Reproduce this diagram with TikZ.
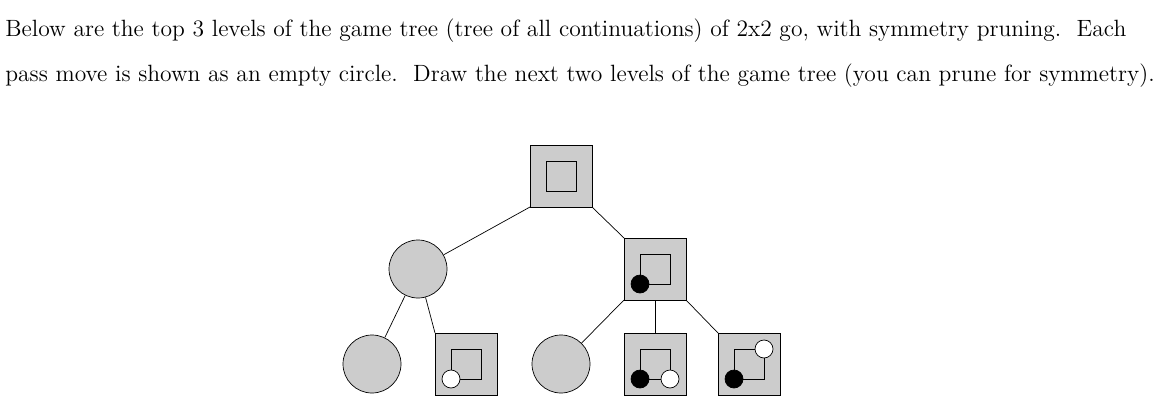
\documentclass[tikz,border=0pt]{standalone}
\begin{document}
\begin{tikzpicture}[x=0.02cm,y=-0.02cm,
  board/.style={draw,fill=black!20,minimum size=62*0.02cm,inner sep=0,outer sep=0},
  pass/.style={draw,fill=black!20,circle,minimum size=58*0.02cm,inner sep=0},
  bst/.style={draw,fill=black,circle,minimum size=18*0.02cm,inner sep=0},
  wst/.style={draw,fill=white,circle,minimum size=18*0.02cm,inner sep=0},
  txt/.style={anchor=base west,inner sep=0,font=\fontsize{13.4}{15}\selectfont}]
\useasboundingbox (0,0) rectangle (1159,416);
\node[txt] (t1) at (5,36) {Below are the top 3 levels of the game tree (tree of all continuations) of 2x2 go, with symmetry pruning.\ \ Each};
\node[txt] (t2) at (5,81) {pass move is shown as an empty circle.\ \ Draw the next two levels of the game tree (you can prune for symmetry).};
\node[board] (r) at (561,176) {};
\node[pass] (p) at (418,269) {};
\node[board] (s) at (655,269) {};
\node[pass] (pp) at (372,364) {};
\node[board] (ps) at (466,364) {};
\node[pass] (sp) at (561,364) {};
\node[board] (sa) at (655,364) {};
\node[board] (sb) at (749,364) {};
\foreach \n in {r,s,ps,sa,sb}{\draw[fill=black!20] ([shift={(-15,15)}]\n.center) rectangle ([shift={(15,-15)}]\n.center);}
\node[bst] (s1) at ([shift={(-15,15)}]s.center) {};
\node[wst] (ps1) at ([shift={(-15,15)}]ps.center) {};
\node[bst] (sa1) at ([shift={(-15,15)}]sa.center) {};
\node[wst] (sa2) at ([shift={(15,15)}]sa.center) {};
\node[bst] (sb1) at ([shift={(-15,15)}]sb.center) {};
\node[wst] (sb2) at ([shift={(15,-15)}]sb.center) {};
\draw (r.south west) -- (p);
\draw (r.south east) -- (s.north west);
\draw (p) -- (pp);
\draw (p) -- (ps.north west);
\draw (s.south west) -- (sp);
\draw (s.south) -- (sa.north);
\draw (s.south east) -- (sb.north west);
\end{tikzpicture}
\end{document}
